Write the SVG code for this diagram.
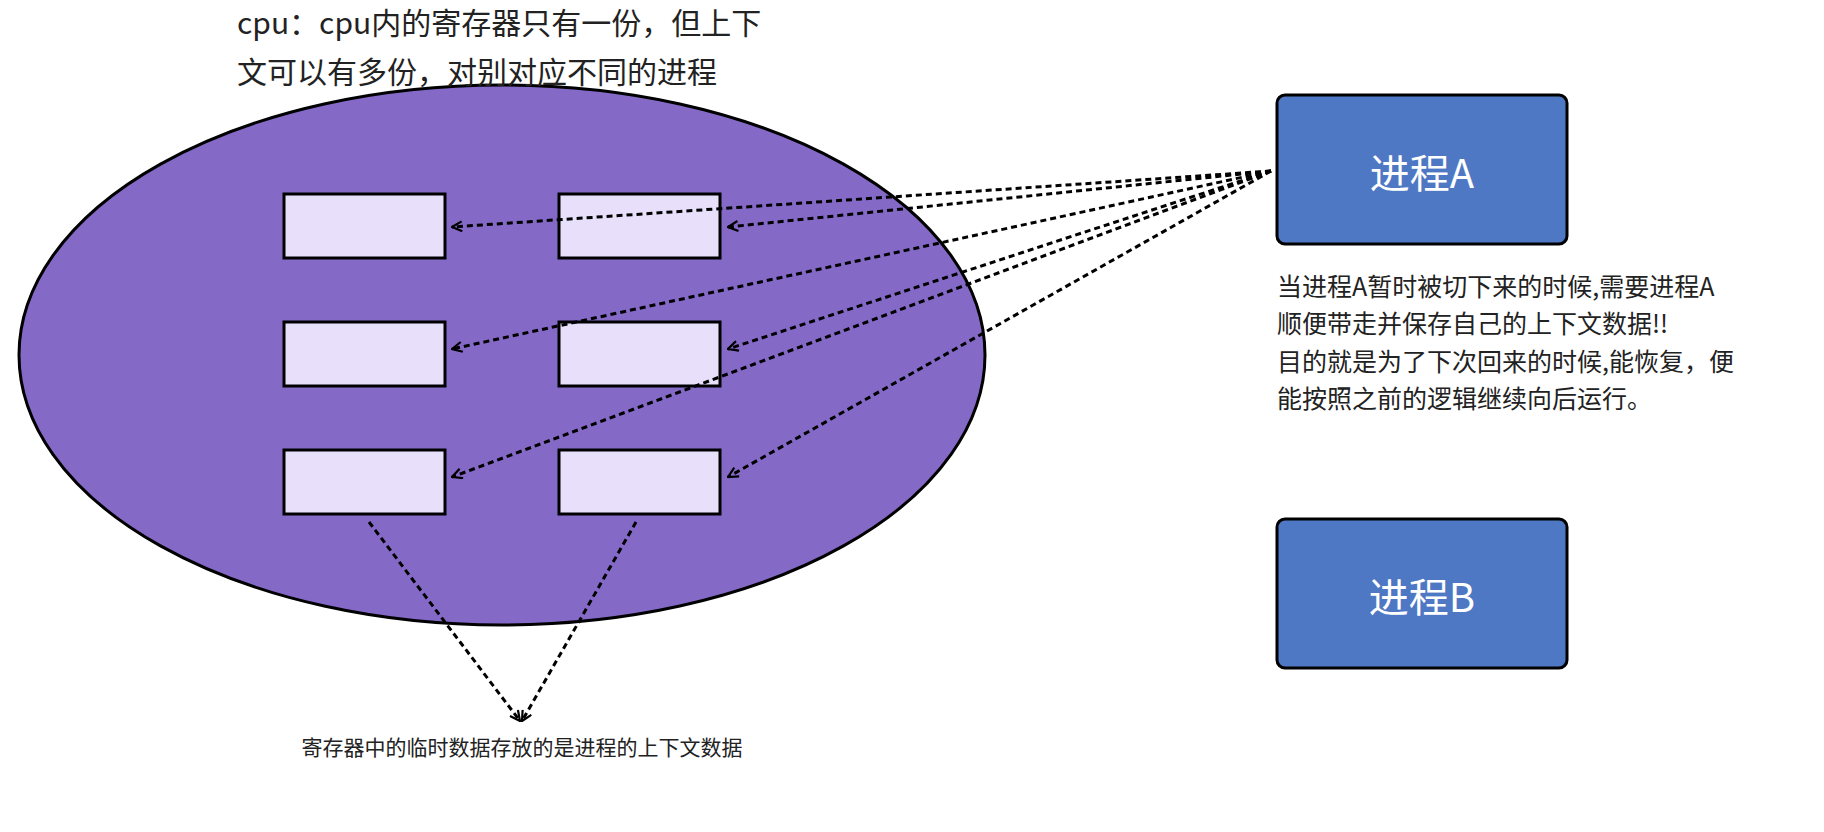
<svg xmlns="http://www.w3.org/2000/svg" width="1824" height="832" viewBox="0 0 1824 832">
<style>
.t{font-family:"Noto Sans CJK SC","Noto Sans",sans-serif;fill:#222}
.reg{fill:#e8e0fb;stroke:#000;stroke-width:3}
.proc{fill:#4f78c4;stroke:#000;stroke-width:3}
.pl{font-family:"Noto Sans CJK SC","Noto Sans",sans-serif;fill:#fff;font-size:40px;text-anchor:middle}
.c{fill:none;stroke:#000;stroke-width:3;stroke-dasharray:6 4}
</style>
<defs>
<marker id="ah" viewBox="0 0 12 12" refX="11" refY="6" markerWidth="12" markerHeight="12" markerUnits="userSpaceOnUse" orient="auto">
<path d="M1,1 L11,6 L1,11" fill="none" stroke="#000" stroke-width="2.2"/>
</marker>
</defs>
<rect width="1824" height="832" fill="#fff"/>
<g id="cpu">
<ellipse cx="502" cy="355" rx="483" ry="270" fill="#8469c7" stroke="#000" stroke-width="3"/>
</g>
<g id="r1"><rect class="reg" x="284" y="194" width="161" height="64"/></g>
<g id="r2"><rect class="reg" x="559" y="194" width="161" height="64"/></g>
<g id="r3"><rect class="reg" x="284" y="322" width="161" height="64"/></g>
<g id="r4"><rect class="reg" x="559" y="322" width="161" height="64"/></g>
<g id="r5"><rect class="reg" x="284" y="450" width="161" height="64"/></g>
<g id="r6"><rect class="reg" x="559" y="450" width="161" height="64"/></g>
<g id="procA"><rect class="proc" x="1277" y="95" width="290" height="149" rx="8"/><text class="pl" x="1422" y="188">进程A</text></g>
<g id="procB"><rect class="proc" x="1277" y="519" width="290" height="149" rx="8"/><text class="pl" x="1422" y="612">进程B</text></g>
<g id="connectors">
<path class="c" d="M1271,171 L452,227" marker-end="url(#ah)"/>
<path class="c" d="M1271,171 L728,227" marker-end="url(#ah)"/>
<path class="c" d="M1271,171 L452,349" marker-end="url(#ah)"/>
<path class="c" d="M1271,171 L728,349" marker-end="url(#ah)"/>
<path class="c" d="M1271,171 L452,477" marker-end="url(#ah)"/>
<path class="c" d="M1271,171 L728,477" marker-end="url(#ah)"/>
<path class="c" d="M369,522 L520,721" marker-end="url(#ah)"/>
<path class="c" d="M636,522 L522,721" marker-end="url(#ah)"/>
</g>
<g id="labels">
<text class="t" font-size="30" x="237" y="34">cpu：cpu内的寄存器只有一份，但上下</text>
<text class="t" font-size="30" x="237" y="83">文可以有多份，对别对应不同的进程</text>
<text class="t" font-size="25" x="1277" y="296">当进程A暂时被切下来的时候,需要进程A</text>
<text class="t" font-size="25" x="1277" y="333">顺便带走并保存自己的上下文数据!!</text>
<text class="t" font-size="25" x="1277" y="371">目的就是为了下次回来的时候,能恢复，便</text>
<text class="t" font-size="25" x="1277" y="408">能按照之前的逻辑继续向后运行。</text>
<text class="t" font-size="21" x="522" y="755" text-anchor="middle">寄存器中的临时数据存放的是进程的上下文数据</text>
</g>
</svg>
